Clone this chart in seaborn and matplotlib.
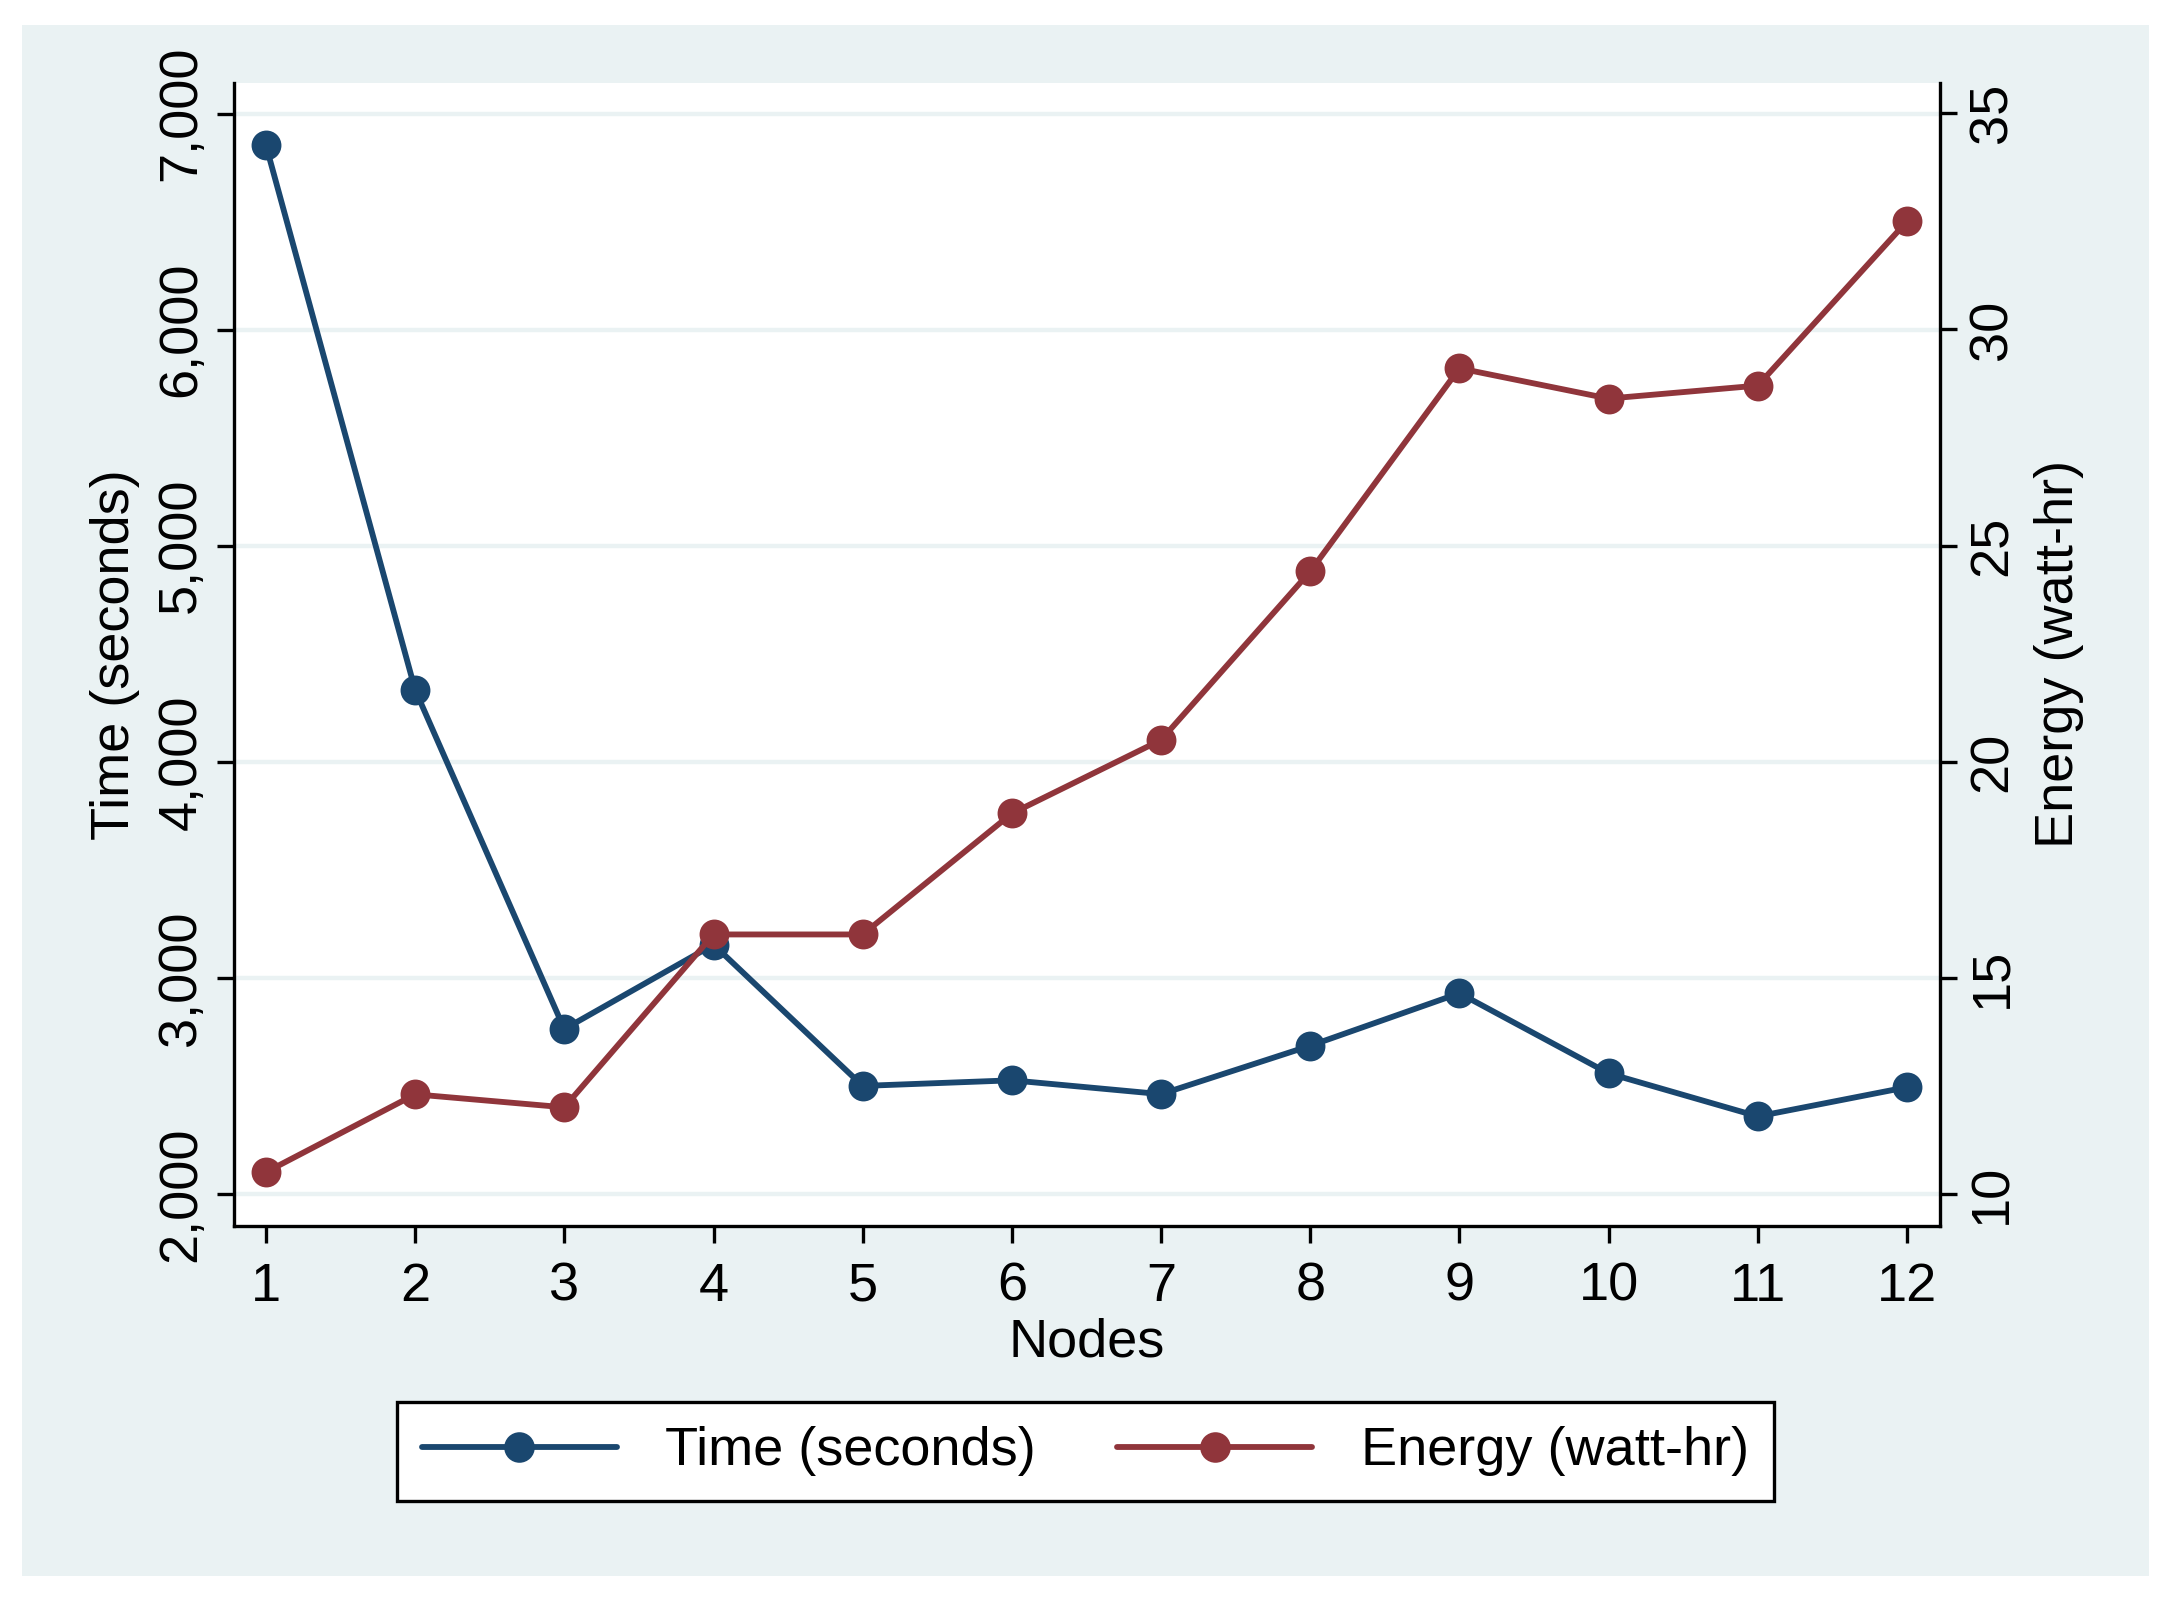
import numpy as np
import pandas as pd
import matplotlib
matplotlib.use('Agg')
import matplotlib.pyplot as plt
import matplotlib.ticker as mticker
from matplotlib.lines import Line2D
from matplotlib.patches import Rectangle
import seaborn as sns

# values
nodes = [1, 2, 3, 4, 5, 6, 7, 8, 9, 10, 11, 12]
time_sec = [6853, 4333, 2763, 3154, 2500, 2526, 2462, 2686, 2929, 2558, 2359, 2494]
energy_wh = [10.5, 12.3, 12.0, 16.0, 16.0, 18.8, 20.5, 24.4, 29.1, 28.4, 28.7, 32.5]
time_ticks = [2000, 3000, 4000, 5000, 6000, 7000]
energy_ticks = [10, 15, 20, 25, 30, 35]

blue = '#1a476f'
red = '#90353b'
bg = '#eaf2f3'

df = pd.DataFrame({'Nodes': nodes, 'Time': time_sec, 'Energy': energy_wh})

sns.set_style('white')
plt.rcParams['font.family'] = ['Liberation Sans', 'DejaVu Sans']
plt.rcParams['text.color'] = 'black'
plt.rcParams['axes.labelcolor'] = 'black'
plt.rcParams['xtick.color'] = 'black'
plt.rcParams['ytick.color'] = 'black'

fig = plt.figure(figsize=(10.855, 8.005), dpi=200)
fig.patch.set_facecolor('white')
fig.patches.append(Rectangle((0.0102, 0.0156), 0.9796, 0.9688, transform=fig.transFigure,
                             facecolor=bg, edgecolor='none', zorder=-5))

ax = fig.add_axes([0.1078, 0.2344, 0.8935 - 0.1078, 0.9481 - 0.2344])
ax.set_facecolor('white')
ax2 = ax.twinx()

for y in time_ticks:
    ax.axhline(y, color=bg, lw=1.6, zorder=0)

sns.lineplot(data=df, x='Nodes', y='Time', ax=ax, color=blue, marker='o', markersize=10,
             markeredgecolor=blue, lw=2.1, zorder=3)
sns.lineplot(data=df, x='Nodes', y='Energy', ax=ax2, color=red, marker='o', markersize=10,
             markeredgecolor=red, lw=2.1, zorder=3)

ax.set_xlim(0.786, 12.22)
ax.set_ylim(1853, 7141)
ax2.set_ylim(9.26, 35.7)
ax.set_xticks(nodes)
ax.set_yticks(time_ticks)
ax2.set_yticks(energy_ticks)
ax.yaxis.set_major_formatter(mticker.FuncFormatter(lambda v, p: f'{int(v):,}'))

fs = 19.5
ax.tick_params(axis='x', labelsize=fs, length=6, width=1.2, direction='out', bottom=True, pad=7)
ax.tick_params(axis='y', labelsize=fs, length=6, width=1.2, direction='out', left=True, pad=4)
ax2.tick_params(axis='y', labelsize=fs, length=6, width=1.2, direction='out', right=True, pad=4)
for lab in ax.get_yticklabels():
    lab.set_rotation(90)
    lab.set_va('center')
for lab in ax2.get_yticklabels():
    lab.set_rotation(90)
    lab.set_va('center')

ax.set_xlabel('Nodes', fontsize=fs, labelpad=2)
ax.set_ylabel('Time (seconds)', fontsize=fs, labelpad=6)
ax2.set_ylabel('Energy (watt-hr)', fontsize=fs, labelpad=6)

for a in (ax, ax2):
    a.spines['top'].set_visible(False)
    for s in ('left', 'right', 'bottom'):
        a.spines[s].set_color('black')
        a.spines[s].set_linewidth(1.2)
ax.spines['right'].set_visible(False)
ax2.spines['left'].set_visible(False)
ax2.spines['bottom'].set_visible(False)

handles = [Line2D([0], [0], color=blue, lw=2.1, marker='o', markersize=10),
           Line2D([0], [0], color=red, lw=2.1, marker='o', markersize=10)]
leg = fig.legend(handles, ['Time (seconds)', 'Energy (watt-hr)'], loc='center',
                 bbox_to_anchor=(0.5, 0.0934), ncol=2, fontsize=fs, frameon=True,
                 fancybox=False, framealpha=1, handlelength=3.6, columnspacing=1.5,
                 borderpad=0.45, handletextpad=0.9)
leg.get_frame().set_edgecolor('black')
leg.get_frame().set_linewidth(1.2)
leg.get_frame().set_facecolor('white')

fig.savefig('out.png', dpi=200, facecolor='white')
